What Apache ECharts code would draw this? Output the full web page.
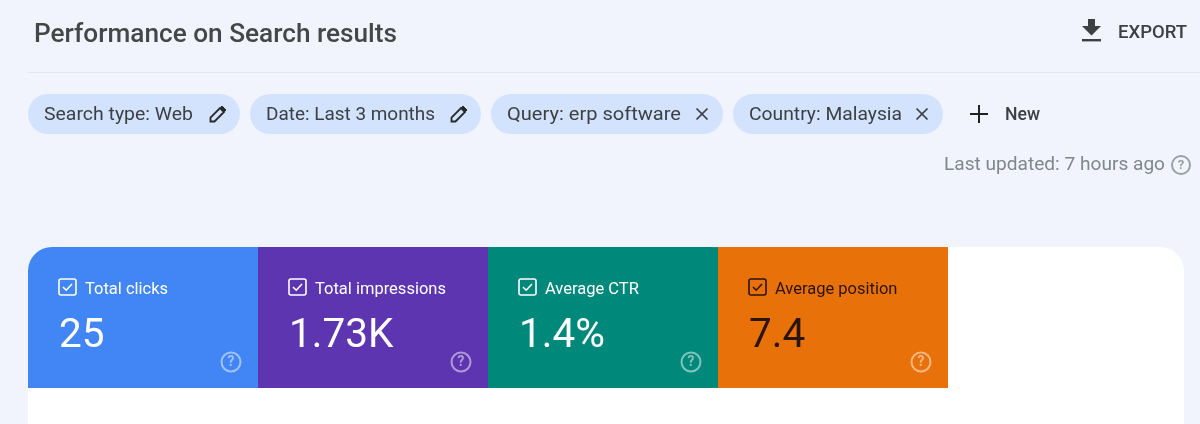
<!DOCTYPE html>
<html>
<head>
<meta charset="utf-8">
<style>
  html, body { margin: 0; padding: 0; background: #f1f4fd; }
  #main { width: 1200px; height: 424px; }
</style>
<script src="https://cdn.jsdelivr.net/npm/echarts@6/dist/echarts.min.js"></script>
</head>
<body>
<div id="main"></div>
<script>
// page text
var pageTitle = 'Performance on Search results';
var exportLabel = 'EXPORT';
var newLabel = 'New';
var updatedLabel = 'Last updated: 7 hours ago';

// filter chips
var filterLabels = ['Search type: Web', 'Date: Last 3 months', 'Query: erp software', 'Country: Malaysia'];
var filterIcons = ['edit', 'edit', 'close', 'close'];

// metric cards
var metricNames = ['Total clicks', 'Total impressions', 'Average CTR', 'Average position'];
var metricValues = ['25', '1.73K', '1.4%', '7.4'];
var metricColors = ['#4285f4', '#5e35b1', '#00897b', '#e8710a'];
var metricInk = ['#ffffff', '#ffffff', '#ffffff', '#2a1404'];

// layout of the chips: left, right, width of the text
var chipSpans = [[28, 240], [250, 481], [491, 723], [733, 943]];
var chipTextWidths = [149, 169, 174, 153];

var FONT = 'Roboto, sans-serif';
var ruler = document.createElement('canvas').getContext('2d');

// width: the text is stretched sideways to that many pixels
function label(text, x, y, size, color, weight, width) {
    var font = (weight || 400) + ' ' + size + 'px ' + FONT;
    ruler.font = font;
    return {
        type: 'text',
        x: x,
        y: y,
        scaleX: width ? width / ruler.measureText(text).width : 1,
        style: {
            text: text,
            fill: color,
            font: font,
            verticalAlign: 'middle'
        }
    };
}

function stroke(points, color, width) {
    return {
        type: 'polyline',
        shape: { points: points },
        style: { fill: 'none', stroke: color, lineWidth: width }
    };
}

function crossIcon(cx, cy, r, color) {
    return [
        stroke([[cx - r, cy - r], [cx + r, cy + r]], color, 1.7),
        stroke([[cx - r, cy + r], [cx + r, cy - r]], color, 1.7)
    ];
}

function plusIcon(cx, cy, r, color) {
    return [
        stroke([[cx - r, cy], [cx + r, cy]], color, 2),
        stroke([[cx, cy - r], [cx, cy + r]], color, 2)
    ];
}

function pencilIcon(x, y, color) {
    return [
        {
            type: 'polygon',
            shape: { points: [[x + 1.5, y + 15.5], [x + 1.5, y + 11.5], [x + 11, y + 2], [x + 15, y + 6], [x + 5.5, y + 15.5]] },
            style: { fill: 'none', stroke: color, lineWidth: 1.8 }
        },
        {
            type: 'polygon',
            shape: { points: [[x + 11.5, y + 1.5], [x + 13, y], [x + 17, y + 4], [x + 15.5, y + 5.5]] },
            style: { fill: color, stroke: color, lineWidth: 1 }
        }
    ];
}

function downloadIcon(x, y, color) {
    return [
        {
            type: 'polygon',
            shape: { points: [[x + 6, y], [x + 13, y], [x + 13, y + 7], [x + 19, y + 7], [x + 9.5, y + 16.5], [x, y + 7], [x + 6, y + 7]] },
            style: { fill: color }
        },
        { type: 'rect', shape: { x: x, y: y + 20, width: 19, height: 2.4 }, style: { fill: color } }
    ];
}

function helpIcon(cx, cy, r, color) {
    return [
        { type: 'circle', shape: { cx: cx, cy: cy, r: r }, style: { fill: 'none', stroke: color, lineWidth: 2 } },
        {
            type: 'text',
            x: cx,
            y: cy + 1,
            style: {
                text: '?',
                fill: color,
                font: '700 ' + (r * 1.45) + 'px ' + FONT,
                align: 'center',
                verticalAlign: 'middle'
            }
        }
    ];
}

function checkBox(x, y, color) {
    return [
        { type: 'rect', shape: { x: x, y: y, width: 17, height: 16, r: 2 }, style: { fill: 'none', stroke: color, lineWidth: 1.6 } },
        stroke([[x + 4, y + 8], [x + 7.2, y + 11.2], [x + 13, y + 5]], color, 1.6)
    ];
}

var shapes = [];

// header
shapes.push(label(pageTitle, 34, 35, 26.2, '#444746', 500, 363));
shapes = shapes.concat(downloadIcon(1082, 19, '#3c4043'));
shapes.push(label(exportLabel, 1118, 33.5, 17.5, '#3c4043', 500, 69));
shapes.push({ type: 'line', shape: { x1: 28, y1: 72.5, x2: 1200, y2: 72.5 }, style: { stroke: '#e3e6ee', lineWidth: 1 } });

// chips
filterLabels.forEach(function (text, i) {
    var left = chipSpans[i][0];
    var right = chipSpans[i][1];
    shapes.push({ type: 'rect', shape: { x: left, y: 94, width: right - left, height: 40, r: 20 }, style: { fill: '#d3e3fd' } });
    shapes.push(label(text, left + 16, 115.5, 18.5, '#3c4043', 400, chipTextWidths[i]));
    if (filterIcons[i] === 'edit') {
        shapes = shapes.concat(pencilIcon(right - 31, 106, '#28292b'));
    } else {
        shapes = shapes.concat(crossIcon(right - 21, 114, 5.5, '#3c4043'));
    }
});
shapes = shapes.concat(plusIcon(979, 114, 9, '#202124'));
shapes.push(label(newLabel, 1005, 115.5, 17.5, '#3c4043', 500, 35));

// last updated
shapes.push(label(updatedLabel, 944, 165.5, 19, '#80868b', 400, 221));
shapes = shapes.concat(helpIcon(1181, 165, 9, '#9aa0a6'));

// white panel
shapes.push({ type: 'rect', shape: { x: 28, y: 247, width: 1156, height: 200, r: 24 }, style: { fill: '#ffffff' } });

// metric cards
metricNames.forEach(function (name, i) {
    var left = 28 + i * 230;
    shapes.push({
        type: 'rect',
        shape: { x: left, y: 247, width: 230, height: 141, r: i === 0 ? [24, 0, 0, 0] : 0 },
        style: { fill: metricColors[i] }
    });
    shapes = shapes.concat(checkBox(left + 31, 279, metricInk[i]));
    shapes.push(label(name, left + 57, 289.5, 16.5, metricInk[i]));
    shapes.push(label(metricValues[i], left + 31, 336.5, 40.5, metricInk[i]));
    shapes = shapes.concat(helpIcon(left + 203, 362, 9.5, 'rgba(255,255,255,0.5)'));
});

var myChart = echarts.init(document.getElementById('main'));
myChart.setOption({
    backgroundColor: '#f1f4fd',
    animation: false,
    graphic: { elements: shapes }
});
</script>
</body>
</html>
